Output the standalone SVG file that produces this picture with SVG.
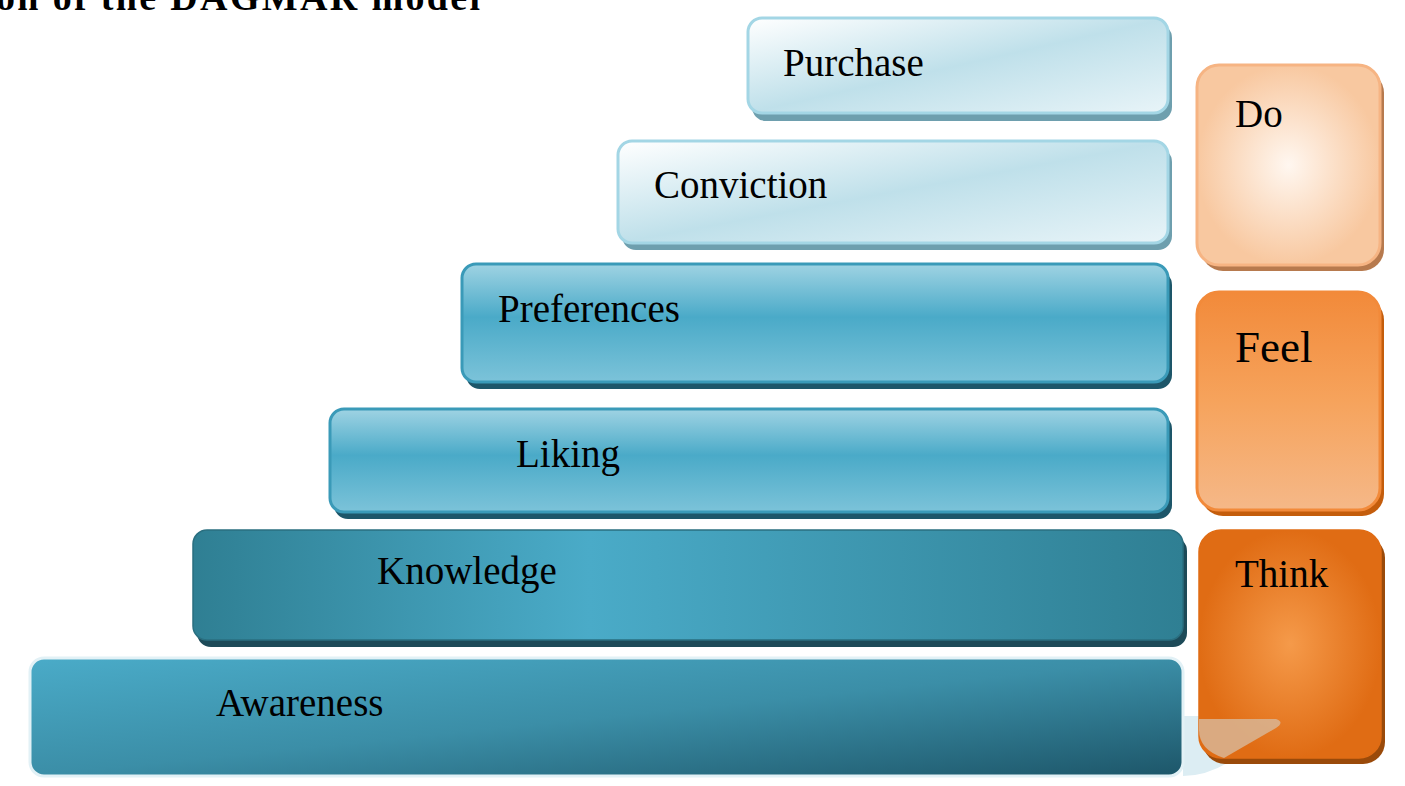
<svg xmlns="http://www.w3.org/2000/svg" width="1405" height="786" viewBox="0 0 1405 786">
<style>
text{font-family:"Liberation Serif",serif;fill:#000}
.l{font-size:39px}
</style>
<defs>
<linearGradient id="gl" x1="0" y1="0" x2="1" y2="1"><stop offset="0" stop-color="#ffffff"/><stop offset="0.5" stop-color="#bfe0ea"/><stop offset="1" stop-color="#e8f4f8"/></linearGradient>
<linearGradient id="gm" x1="0" y1="0" x2="0" y2="1"><stop offset="0" stop-color="#9fd3e3"/><stop offset="0.45" stop-color="#4aaac8"/><stop offset="1" stop-color="#7cc3d9"/></linearGradient>
<linearGradient id="gk" x1="0" y1="0" x2="1" y2="0"><stop offset="0" stop-color="#2f7f93"/><stop offset="0.4" stop-color="#4aabc8"/><stop offset="1" stop-color="#2f7f93"/></linearGradient>
<linearGradient id="ga" x1="0" y1="0" x2="1" y2="1"><stop offset="0" stop-color="#4aabc8"/><stop offset="0.5" stop-color="#3b8ea7"/><stop offset="1" stop-color="#1d5669"/></linearGradient>
<radialGradient id="gd"><stop offset="0" stop-color="#fff7f0"/><stop offset="1" stop-color="#f8c8a0"/></radialGradient>
<linearGradient id="gf" x1="0" y1="0" x2="0" y2="1"><stop offset="0" stop-color="#f28a3a"/><stop offset="0.5" stop-color="#f6a35c"/><stop offset="1" stop-color="#f5b888"/></linearGradient>
<radialGradient id="gt"><stop offset="0" stop-color="#f59a4a"/><stop offset="1" stop-color="#e06c14"/></radialGradient>
</defs>
<text x="-4" y="10" style="font-size:38px;font-weight:bold" textLength="484">on of the DAGMAR model</text>
<g id="purchase"><rect x="752" y="24" width="420" height="97" rx="14" fill="#6e9fae"/><rect x="748" y="18" width="420" height="95" rx="14" fill="url(#gl)" stroke="#a3d6e5" stroke-width="3"/><text class="l" x="783" y="76">Purchase</text></g>
<g id="conviction"><rect x="622" y="148" width="550" height="102" rx="14" fill="#6e9fae"/><rect x="618" y="141" width="550" height="102" rx="14" fill="url(#gl)" stroke="#a3d6e5" stroke-width="3"/><text class="l" x="654" y="198">Conviction</text></g>
<g id="preferences"><rect x="466" y="271" width="706" height="118" rx="14" fill="#1d5669"/><rect x="462" y="264" width="706" height="118" rx="14" fill="url(#gm)" stroke="#3a9ab8" stroke-width="3"/><text class="l" x="498" y="322">Preferences</text></g>
<g id="liking"><rect x="334" y="415" width="838" height="104" rx="14" fill="#1d5669"/><rect x="330" y="409" width="838" height="103" rx="14" fill="url(#gm)" stroke="#3a9ab8" stroke-width="3"/><text class="l" x="516" y="467">Liking</text></g>
<g id="knowledge"><rect x="197" y="537" width="990" height="110" rx="14" fill="#1d4a58"/><rect x="193" y="530" width="990" height="110" rx="14" fill="url(#gk)" stroke="#2a6f80" stroke-width="1.5"/><text class="l" x="377" y="584">Knowledge</text></g>
<g id="awareness"><path d="M1183 716 L1280 716 Q1230 776 1183 776 Z" fill="#dcedf3"/><rect x="30" y="658" width="1153" height="118" rx="14" fill="url(#ga)" stroke="#e2f1f6" stroke-width="3"/><text class="l" x="216" y="716">Awareness</text></g>
<g id="do"><rect x="1201" y="71" width="183" height="200" rx="22" fill="#b77a4e"/><rect x="1197" y="65" width="183" height="200" rx="22" fill="url(#gd)" stroke="#f6b483" stroke-width="3"/><text class="l" x="1235" y="127">Do</text></g>
<g id="feel"><rect x="1201" y="298" width="183" height="218" rx="22" fill="#c45d0c"/><rect x="1197" y="292" width="183" height="218" rx="22" fill="url(#gf)" stroke="#f28a3a" stroke-width="3"/><text x="1235" y="362" style="font-size:45px">Feel</text></g>
<g id="think"><rect x="1203" y="536" width="182" height="228" rx="22" fill="#9a4a0a"/><rect x="1199" y="530" width="182" height="228" rx="22" fill="url(#gt)" stroke="#e06c14" stroke-width="1.5"/><path d="M1199 719 L1276 719 Q1285 722 1276 728 L1224 758 Q1199 750 1199 730 Z" fill="#d8b594" opacity="0.85"/><text class="l" x="1235" y="587">Think</text></g>
<g id="connectors"/>
</svg>
